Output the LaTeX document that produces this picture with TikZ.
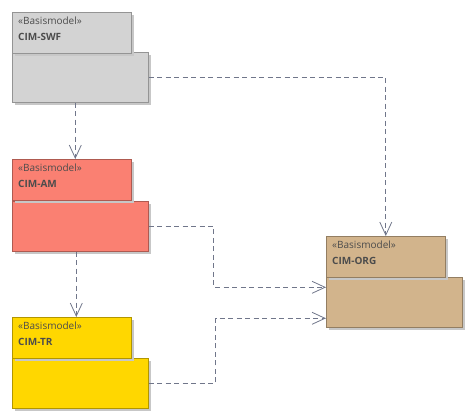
\documentclass[tikz,border=0pt]{standalone}
\usepackage{fontspec}
\setmainfont{Open Sans}
\usetikzlibrary{arrows.meta,shadows,calc}

\definecolor{swfgray}{RGB}{211,211,211}
\definecolor{amsalmon}{RGB}{250,128,114}
\definecolor{trgold}{RGB}{255,215,0}
\definecolor{orgtan}{RGB}{210,180,140}
\definecolor{deplink}{RGB}{112,118,138}

\tikzset{
  pkg/.style={draw=#1!70!black, fill=#1, line width=0.6pt, anchor=north west, inner sep=0pt,
    drop shadow={shadow xshift=2.5pt, shadow yshift=-2.5pt, fill=black!22, opacity=1}},
  pkgtab/.style={pkg=#1, minimum width=119pt, minimum height=41pt},
  pkgbody/.style={pkg=#1, minimum width=136pt, minimum height=50pt},
  pkgtext/.style={anchor=north west, align=left, inner sep=0pt, text=black!70,
    font=\fontsize{10}{16}\selectfont},
  dep/.style={draw=deplink, line width=0.8pt, dash pattern=on 5pt off 3.5pt,
    -{Straight Barb[length=13pt, width=12pt, line width=0.8pt]}}
}

\begin{document}
\begin{tikzpicture}[x=1pt, y=-1pt]
\useasboundingbox (0,0) rectangle (474,420);

% packages
\node[pkgbody=swfgray] (swfbody) at (12,52) {};
\node[pkgtab=swfgray] (swftab) at (12,12) {};
\node[pkgtext] (swfname) at ($(swftab.north west)+(6,5)$) {«Basismodel»\\\textbf{CIM-SWF}};

\node[pkgbody=amsalmon] (ambody) at (12,201) {};
\node[pkgtab=amsalmon] (amtab) at (12,159) {};
\node[pkgtext] (amname) at ($(amtab.north west)+(6,5)$) {«Basismodel»\\\textbf{CIM-AM}};

\node[pkgbody=trgold] (trbody) at (12,358) {};
\node[pkgtab=trgold] (trtab) at (12,317) {};
\node[pkgtext] (trname) at ($(trtab.north west)+(6,5)$) {«Basismodel»\\\textbf{CIM-TR}};

\node[pkgbody=orgtan] (orgbody) at (326,277) {};
\node[pkgtab=orgtan] (orgtab) at (326,236) {};
\node[pkgtext] (orgname) at ($(orgtab.north west)+(6,5)$) {«Basismodel»\\\textbf{CIM-ORG}};

% dependencies
\draw[dep] ($(swfbody.south)+(-5,0)$) -- ($(amtab.north)+(3.5,0)$);
\draw[dep] ($(ambody.south)+(-4,0)$) -- ($(trtab.north)+(4.5,0)$);
\draw[dep] (swfbody.east) -| (orgtab.north);
\draw[dep] (ambody.east) -- ++(65,0) |- ($(orgbody.west)+(0,-15)$);
\draw[dep] (trbody.east) -- ++(67,0) |- ($(orgbody.west)+(0,16)$);
\end{tikzpicture}
\end{document}
